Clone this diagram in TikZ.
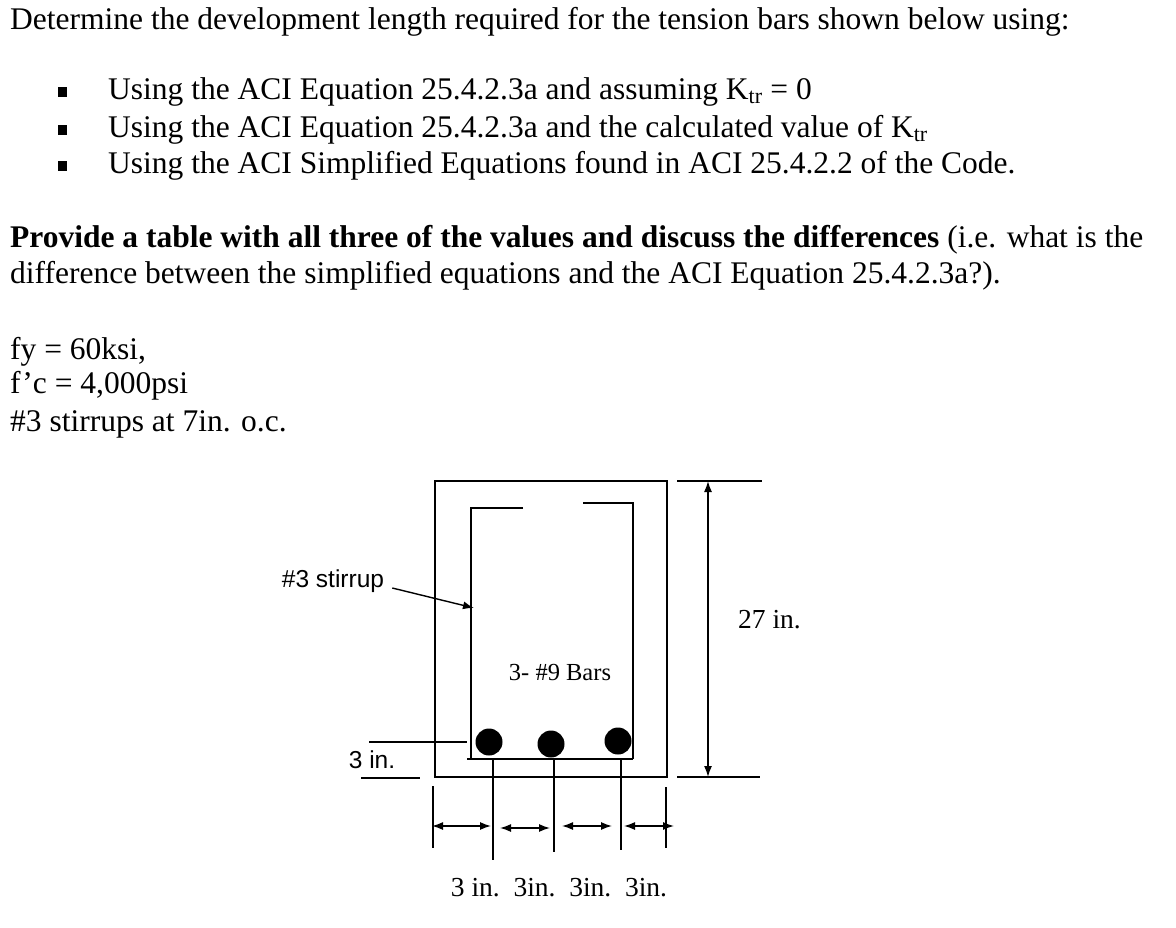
\documentclass[tikz,border=0pt]{standalone}
\usepackage{fontspec}
\usetikzlibrary{arrows.meta}
\setmainfont{Liberation Serif}
\newfontfamily\arialf{Liberation Sans}
\begin{document}
\begin{tikzpicture}[x=1pt,y=-1pt,
  txt/.style={anchor=west,inner sep=0pt,font=\fontsize{31.5}{36}\selectfont},
  lbl/.style={inner sep=0pt,font=\fontsize{27.5}{30}\selectfont},
  sl/.style={inner sep=0pt,font=\arialf\fontsize{24.5}{28}\selectfont},
  ln/.style={line width=1.1pt},
  dim/.style={line width=1.4pt,{Latex[length=11pt,width=8pt]}-{Latex[length=11pt,width=8pt]}},
  bar/.style={circle,fill=black,minimum size=27pt,inner sep=0pt}]
\useasboundingbox (0,0) rectangle (1176,928);
\node[txt] (t1) at (10,22) {Determine the development length required for the tension bars shown below using:};
\foreach \y in {92,130,166} \fill (58,\y-5) rectangle (67,\y+5);
\node[txt] (l1) at (108,92) {Using the ACI Equation 25.4.2.3a and assuming K\textsubscript{tr} = 0};
\node[txt] (l2) at (108,130) {Using the ACI Equation 25.4.2.3a and the calculated value of K\textsubscript{tr}};
\node[txt] (l3) at (108,166) {Using the ACI Simplified Equations found in ACI 25.4.2.2 of the Code.};
\node[txt] (p1) at (10,240) {\textbf{Provide a table with all three of the values and discuss the differences} (i.e. what is the};
\node[txt] (p2) at (10,276) {difference between the simplified equations and the ACI Equation 25.4.2.3a?).};
\node[txt] (f1) at (10,352) {fy = 60ksi,};
\node[txt] (f2) at (10,386) {f’c = 4,000psi};
\node[txt] (f3) at (10,424) {\#3 stirrups at 7in. o.c.};
% section
\draw[ln] (435,481) rectangle (667,777);
\draw[ln] (523,508) -- (471,508) -- (471,759);
\draw[ln] (583,503) -- (633,503) -- (633,759);
\draw[ln] (467,759) -- (633,759);
\node[bar] (c1) at (489,742) {};
\node[bar] (c2) at (551,744) {};
\node[bar] (c3) at (618,741) {};
% 27 in
\draw[ln] (677,481) -- (762,481);
\draw[ln] (677,777) -- (760,777);
\coordinate (dt) at (708,481); \coordinate (db) at (708,777);
\draw[dim] (dt) -- (db);
\node[lbl,anchor=west] (h) at (738,620) {27 in.};
% bottom dims
\draw[ln] (433,786) -- (433,848);
\draw[ln] (493,760) -- (493,860);
\draw[ln] (554,760) -- (554,852);
\draw[ln] (621,760) -- (621,850);
\draw[ln] (666,787) -- (666,848);
\coordinate (a0) at (432,826); \coordinate (a1) at (491,826);
\coordinate (a2) at (500,828); \coordinate (a3) at (550,828);
\coordinate (a4) at (562,826); \coordinate (a5) at (612,826);
\coordinate (a6) at (624,826); \coordinate (a7) at (674,826);
\draw[dim] (a0) -- (a1); \draw[dim] (a2) -- (a3);
\draw[dim] (a4) -- (a5); \draw[dim] (a6) -- (a7);
\node[lbl] (bl) at (559,888) {3 in.\ \ 3in.\ \ 3in.\ \ 3in.};
% cover
\draw[ln] (369,742) -- (467,742);
\draw[ln] (361,778) -- (420,778);
\node[sl] (cv) at (372,760) {3 in.};
% stirrup label
\node[sl] (st) at (333,581) {\#3 stirrup};
\coordinate (sp) at (474,608);
\draw[line width=1.4pt,-{Latex[length=11pt,width=8pt]}] (st.east) ++(8,7) -- (sp);
\node[inner sep=0pt,font=\fontsize{24.5}{28}\selectfont] (bars) at (560,673) {3- \#9 Bars};
\end{tikzpicture}
\end{document}
